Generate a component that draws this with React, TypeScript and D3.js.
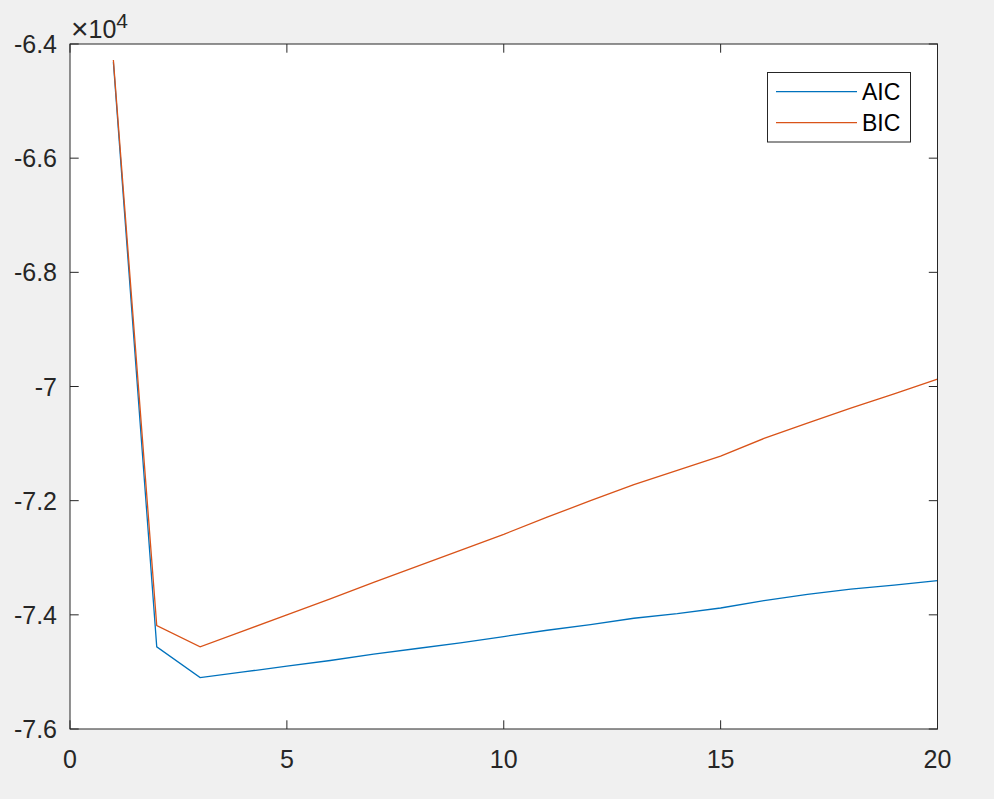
import { line, scaleLinear } from "d3";

const orders = [1, 2, 3, 4, 5, 6, 7, 8, 9, 10, 11, 12, 13, 14, 15, 16, 17, 18, 19, 20];
const aic = [
  -6.432, -7.456, -7.51, -7.5, -7.49, -7.48, -7.469, -7.459, -7.449, -7.438,
  -7.427, -7.417, -7.406, -7.398, -7.388, -7.375, -7.364, -7.355, -7.348, -7.34,
].map((v) => v * 1e4);
const bic = [
  -6.428, -7.419, -7.456, -7.428, -7.4, -7.372, -7.343, -7.315, -7.287, -7.259,
  -7.229, -7.2, -7.172, -7.147, -7.122, -7.091, -7.064, -7.038, -7.013, -6.987,
].map((v) => v * 1e4);
const xTicks = [0, 5, 10, 15, 20];
const yTicks = [-64000, -66000, -68000, -70000, -72000, -74000, -76000];
const seriesNames = ["AIC", "BIC"];
const seriesColors = ["#0072BD", "#D95319"];

export default function App() {
  const width = 994;
  const height = 799;
  const left = 70;
  const right = 937.5;
  const top = 44;
  const bottom = 729;
  const tick = 8.7;
  const axisColor = "#262626";
  const font = "'Liberation Sans', Arial, Helvetica, sans-serif";

  const x = scaleLinear().domain([0, 20]).range([left, right]);
  const y = scaleLinear().domain([-76000, -64000]).range([bottom, top]);

  const path = (vals: number[]) =>
    line<number>()
      .x((_, i) => x(orders[i]))
      .y((d) => y(d))(vals) ?? "";

  // labels are shown in units of 1e4 (the exponent sits above the axis)
  const yLabel = (v: number) => (v / 1e4).toString();

  return (
    <svg
      width={width}
      height={height}
      style={{ position: "fixed", left: 0, top: 0, background: "#f0f0f0" }}
      fontFamily={font}
    >
      <rect x={left} y={top} width={right - left} height={bottom - top} fill="#ffffff" />

      <defs>
        <clipPath id="plot">
          <rect x={left} y={top} width={right - left} height={bottom - top} />
        </clipPath>
      </defs>

      <g clipPath="url(#plot)" fill="none" strokeWidth={1.3}>
        <path d={path(aic)} stroke={seriesColors[0]} />
        <path d={path(bic)} stroke={seriesColors[1]} />
      </g>

      {/* ticks on all four sides */}
      <g stroke={axisColor} strokeWidth={1}>
        {xTicks.map((t) => (
          <g key={"xt" + t}>
            <line x1={x(t)} x2={x(t)} y1={bottom} y2={bottom - tick} />
            <line x1={x(t)} x2={x(t)} y1={top} y2={top + tick} />
          </g>
        ))}
        {yTicks.map((t) => (
          <g key={"yt" + t}>
            <line x1={left} x2={left + tick} y1={y(t)} y2={y(t)} />
            <line x1={right} x2={right - tick} y1={y(t)} y2={y(t)} />
          </g>
        ))}
        <rect x={left} y={top} width={right - left} height={bottom - top} fill="none" />
      </g>

      <g fill={axisColor} fontSize={25}>
        {xTicks.map((t) => (
          <text key={"xl" + t} x={x(t)} y={bottom + 39} textAnchor="middle">
            {t}
          </text>
        ))}
        {yTicks.map((t) => (
          <text key={"yl" + t} x={left - 13} y={y(t) + 9} textAnchor="end">
            {yLabel(t)}
          </text>
        ))}
        <text x={left + 1} y={38}>
          <tspan fontSize={30} dy={1}>×</tspan>
          <tspan dy={-1}>10</tspan>
          <tspan fontSize={21} dy={-10}>
            4
          </tspan>
        </text>
      </g>

      {/* legend */}
      <g>
        <rect x={767.5} y={72.5} width={143} height={69.5} fill="#ffffff" stroke={axisColor} strokeWidth={1} />
        {seriesNames.map((name, i) => (
          <g key={name}>
            <line
              x1={776}
              x2={857}
              y1={91.7 + i * 31}
              y2={91.7 + i * 31}
              stroke={seriesColors[i]}
              strokeWidth={1.3}
            />
            <text x={862} y={91.7 + i * 31 + 8} fontSize={23} fill="#000000">
              {name}
            </text>
          </g>
        ))}
      </g>
    </svg>
  );
}
